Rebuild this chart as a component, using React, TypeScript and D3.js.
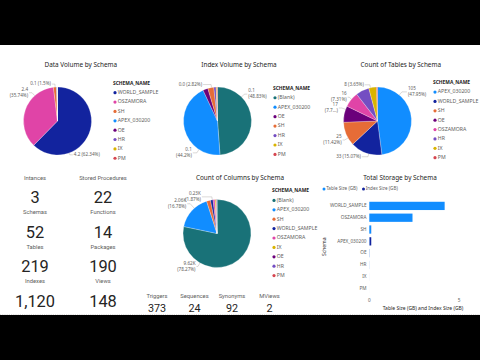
import React from 'react';
import * as d3 from 'd3';

// ---------- DATA ----------
const dataVolumeSchemas = ['WORLD_SAMPLE', 'OSZAMORA', 'SH', 'APEX_030200', 'OE', 'HR', 'IX', 'PM'];
const dataVolumeGB = [4.2001, 2.4081, 0.10106, 0.016, 0.007, 0.003, 0.0012, 0.00056];

const indexVolumeSchemas = ['(Blank)', 'APEX_030200', 'OE', 'SH', 'HR', 'IX', 'PM'];
const indexVolumeGB = [0.10254, 0.09282, 0.00504, 0.005922, 0.00231, 0.000735, 0.00063];

const tableCountSchemas = ['APEX_030200', 'WORLD_SAMPLE', 'SH', 'OE', 'OSZAMORA', 'HR', 'IX', 'PM'];
const tableCounts = [105, 33, 25, 17, 16, 14, 8, 1];

const columnCountSchemas = ['(Blank)', 'APEX_030200', 'SH', 'WORLD_SAMPLE', 'OSZAMORA', 'IX', 'OE', 'HR', 'PM'];
const columnCounts = [9618, 2062, 230, 150, 110, 55, 40, 15, 8];

const storageSchemas = ['WORLD_SAMPLE', 'OSZAMORA', 'SH', 'APEX_030200', 'OE', 'HR', 'IX', 'PM'];
const storageTableGB = [4.2, 2.408, 0.101, 0.016, 0.007, 0.003, 0.0012, 0.00056];
const storageIndexGB = [0, 0, 0.0059, 0.093, 0.005, 0.0023, 0.0007, 0.0006];
const storageTicks = [0, 5];

const cardLabelsLeft = ['Intances', 'Schemas', 'Tables', 'Indexes'];
const cardValuesLeft = [3, 52, 219, 1120];
const cardLabelsRight = ['Stored Procedures', 'Functions', 'Packages', 'Views'];
const cardValuesRight = [22, 14, 190, 148];
const smallCardLabels = ['Triggers', 'Sequences', 'Synonyms', 'MViews'];
const smallCardValues = [373, 24, 92, 2];

// ---------- STYLE ----------
const schemaColor: Record<string, string> = {
  WORLD_SAMPLE: '#12239E',
  OSZAMORA: '#E044A7',
  SH: '#E66C37',
  APEX_030200: '#118DFF',
  OE: '#6B007B',
  HR: '#744EC2',
  IX: '#D9B300',
  PM: '#D64550',
  '(Blank)': '#197278',
};
const UI = "'Segoe UI', 'Noto Sans', sans-serif";
const DIN = "Roboto, 'DejaVu Sans', sans-serif";
const titleColor = '#252423';
const greyText = '#605E5C';

type LabelCfg = { i: number; a: number; ext: number; h: number; two: boolean; trunc?: boolean };

const pctFmt = (v: number, total: number) => String(parseFloat(((v / total) * 100).toFixed(2)));

function Pie(props: {
  title: string; titleX: number; titleY: number;
  cx: number; cy: number; r: number;
  names: string[]; values: number[];
  fmt: (v: number) => string;
  labels: LabelCfg[];
  legendX: number; legendY: number; legendStep: number;
}) {
  const { cx, cy, r, names, values } = props;
  const total = d3.sum(values);
  const arcs = d3.pie<number>().sort(null).value((d) => d)(values);
  const arcGen = d3.arc<d3.PieArcDatum<number>>().innerRadius(0).outerRadius(r);
  const pt = (a: number, rr: number) => [cx + rr * Math.sin((a * Math.PI) / 180), cy - rr * Math.cos((a * Math.PI) / 180)];
  return (
    <g>
      <text x={props.titleX} y={props.titleY} textAnchor="middle" dominantBaseline="middle" fontFamily={UI} fontSize={6.4} fill={titleColor}>{props.title}</text>
      <g transform={`translate(${cx},${cy})`}>
        {arcs.map((a, i) => (
          <path key={i} d={arcGen(a) || ''} fill={schemaColor[names[i]]} stroke="#fff" strokeWidth={0.25} />
        ))}
      </g>
      {props.labels.map((l, k) => {
        const p1 = pt(l.a, r);
        const p2 = pt(l.a, r + l.ext);
        const right = Math.sin((l.a * Math.PI) / 180) >= 0;
        const x3 = p2[0] + (right ? l.h : -l.h);
        const tx = x3 + (right ? 1 : -1);
        const v = props.fmt(values[l.i]);
        let pc = `(${pctFmt(values[l.i], total)}%)`;
        if (l.trunc) pc = pc.slice(0, 4) + '...)';
        return (
          <g key={k}>
            <polyline points={`${p1[0]},${p1[1]} ${p2[0]},${p2[1]} ${x3},${p2[1]}`} fill="none" stroke="#A19F9D" strokeWidth={0.4} />
            {l.two ? (
              <text fontFamily={UI} fontSize={4.6} fill={greyText} textAnchor={right ? 'start' : 'end'}>
                <tspan x={tx} y={p2[1] - 3} dominantBaseline="middle">{v}</tspan>
                <tspan x={tx} y={p2[1] + 3} dominantBaseline="middle">{pc}</tspan>
              </text>
            ) : (
              <text x={tx} y={p2[1]} dominantBaseline="middle" fontFamily={UI} fontSize={4.6} fill={greyText} textAnchor={right ? 'start' : 'end'}>{`${v} ${pc}`}</text>
            )}
          </g>
        );
      })}
      <text x={props.legendX - 2} y={props.legendY} dominantBaseline="middle" fontFamily={UI} fontSize={4.9} fontWeight="bold" fill={titleColor}>SCHEMA_NAME</text>
      {names.map((n, i) => (
        <g key={n}>
          <circle cx={props.legendX} cy={props.legendY + (i + 1) * props.legendStep} r={1.6} fill={schemaColor[n]} />
          <text x={props.legendX + 2.8} y={props.legendY + (i + 1) * props.legendStep} dominantBaseline="middle" fontFamily={UI} fontSize={5.2} fill={greyText}>{n}</text>
        </g>
      ))}
    </g>
  );
}

function StorageBars() {
  const x = d3.scaleLinear().domain([0, 5]).range([369.3, 459]);
  const y = d3.scaleBand<string>().domain(storageSchemas).range([200, 294.5]).paddingInner(0.3).paddingOuter(0.15);
  const stack = storageSchemas.map((s, i) => ({ s, t: storageTableGB[i], ix: storageIndexGB[i] }));
  return (
    <g>
      <text x={400} y={178} textAnchor="middle" dominantBaseline="middle" fontFamily={UI} fontSize={6.4} fill={titleColor}>Total Storage by Schema</text>
      <circle cx={324} cy={189} r={1.5} fill={schemaColor.APEX_030200} />
      <text x={326.2} y={189} dominantBaseline="middle" fontFamily={UI} fontSize={4.6} fill={greyText}>Table Size (GB)</text>
      <circle cx={363.5} cy={189} r={1.5} fill={schemaColor.WORLD_SAMPLE} />
      <text x={365.7} y={189} dominantBaseline="middle" fontFamily={UI} fontSize={4.6} fill={greyText}>Index Size (GB)</text>
      {stack.map((d) => (
        <g key={d.s}>
          <rect x={x(0)} y={y(d.s)} width={x(d.t) - x(0)} height={y.bandwidth()} fill={schemaColor.APEX_030200} />
          <rect x={x(d.t)} y={y(d.s)} width={x(d.t + d.ix) - x(d.t)} height={y.bandwidth()} fill={schemaColor.WORLD_SAMPLE} />
          <text x={366.5} y={(y(d.s) || 0) + y.bandwidth() / 2} textAnchor="end" dominantBaseline="middle" fontFamily={UI} fontSize={4.7} fill={greyText}>{d.s}</text>
        </g>
      ))}
      {storageTicks.map((t) => (
        <text key={t} x={x(t)} y={301} textAnchor="middle" dominantBaseline="middle" fontFamily={UI} fontSize={4.7} fill={greyText}>{t}</text>
      ))}
      <text x={423} y={308.3} textAnchor="middle" dominantBaseline="middle" fontFamily={UI} fontSize={5} fill={titleColor}>Table Size (GB) and Index Size (GB)</text>
      <text transform="translate(325,246.7) rotate(-90)" textAnchor="middle" dominantBaseline="middle" fontFamily={UI} fontSize={5} fill={titleColor}>Schema</text>
    </g>
  );
}

function Cards() {
  const f = d3.format(',');
  const col = (labels: string[], values: number[], cx: number) =>
    labels.map((l, i) => (
      <g key={l}>
        <text x={cx} y={178.3 + i * 34.5} textAnchor="middle" dominantBaseline="middle" fontFamily={DIN} fontSize={5.8} fill={greyText}>{l}</text>
        <text x={cx} y={203.3 + i * 34.5} textAnchor="middle" fontFamily={DIN} fontSize={16.4} fill={titleColor}>{f(values[i])}</text>
      </g>
    ));
  return (
    <g>
      {col(cardLabelsLeft, cardValuesLeft, 35)}
      {col(cardLabelsRight, cardValuesRight, 103)}
      {smallCardLabels.map((l, i) => (
        <g key={l}>
          <text x={157 + i * 37.5} y={296.5} textAnchor="middle" dominantBaseline="middle" fontFamily={DIN} fontSize={5.8} fill={greyText}>{l}</text>
          <text x={157 + i * 37.5} y={311.7} textAnchor="middle" fontFamily={DIN} fontSize={10.8} fill={titleColor}>{f(smallCardValues[i])}</text>
        </g>
      ))}
    </g>
  );
}

export default function App() {
  const f1 = d3.format('.1f');
  const fi = d3.format('d');
  const fk = (v: number) => `${(v / 1000).toFixed(2)}K`;
  return (
    <div style={{ position: 'fixed', left: 0, top: 0, width: 480, height: 360 }}>
      <svg width={480} height={360} viewBox="0 0 480 360" style={{ display: 'block' }}>
        <rect x={0} y={0} width={480} height={360} fill="#000" />
        <rect x={0} y={45} width={480} height={270} fill="#fff" />
        <line x1={0} x2={480} y1={314.5} y2={314.5} stroke="#C8C6C4" strokeWidth={0.6} strokeDasharray="1.2,1" />
        <Pie title="Data Volume by Schema" titleX={80.8} titleY={65}
          cx={57.5} cy={121} r={34}
          names={dataVolumeSchemas} values={dataVolumeGB} fmt={f1}
          labels={[
            { i: 0, a: 160, ext: 2, h: 3, two: false },
            { i: 1, a: 318, ext: 4, h: 3, two: true },
            { i: 2, a: 356, ext: 3, h: 3, two: false },
          ]}
          legendX={115} legendY={83.3} legendStep={9.37} />
        <Pie title="Index Volume by Schema" titleX={239} titleY={65}
          cx={217.5} cy={121} r={34}
          names={indexVolumeSchemas} values={indexVolumeGB} fmt={f1}
          labels={[
            { i: 0, a: 45, ext: 4, h: 3, two: true },
            { i: 1, a: 213, ext: 4, h: 4, two: true },
            { i: 3, a: 350, ext: 3, h: 8, two: false },
          ]}
          legendX={275} legendY={88.3} legendStep={9.45} />
        <Pie title="Count of Tables by Schema" titleX={400.8} titleY={65}
          cx={377.5} cy={121} r={34}
          names={tableCountSchemas} values={tableCounts} fmt={fi}
          labels={[
            { i: 0, a: 40, ext: 4, h: 5, two: true },
            { i: 1, a: 195, ext: 3, h: 6, two: false },
            { i: 2, a: 240, ext: 4, h: 2, two: true },
            { i: 3, a: 290, ext: 4, h: 3, two: true, trunc: true },
            { i: 4, a: 310, ext: 3, h: 1.5, two: true },
            { i: 6, a: 348, ext: 3, h: 5, two: false },
          ]}
          legendX={435} legendY={82.7} legendStep={9.37} />
        <Pie title="Count of Columns by Schema" titleX={240} titleY={178}
          cx={217} cy={233.5} r={34}
          names={columnCountSchemas} values={columnCounts} fmt={fk}
          labels={[
            { i: 0, a: 210, ext: 4, h: 1.5, two: true },
            { i: 1, a: 318, ext: 6, h: 3, two: true },
            { i: 2, a: 352, ext: 3, h: 10, two: true },
          ]}
          legendX={274} legendY={191} legendStep={9.4} />
        <StorageBars />
        <Cards />
      </svg>
    </div>
  );
}
